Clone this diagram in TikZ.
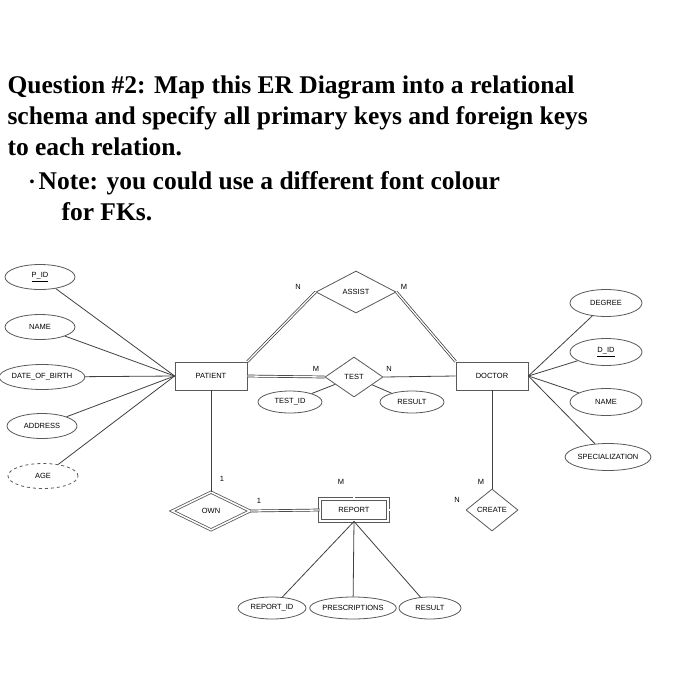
\documentclass[tikz,border=0pt]{standalone}
\usepackage{fontspec}
\setmainfont{Liberation Serif}
\setsansfont{Liberation Sans}
\usetikzlibrary{shapes.geometric}
\begin{document}
\begin{tikzpicture}[x=1pt,y=-1pt,
 attr/.style={ellipse,draw=gray!70!black,thick,minimum width=#1,minimum height=25pt,inner sep=0pt,font=\sffamily\fontsize{7.5}{8}\selectfont},
 attr/.default=70pt,
 ent/.style={rectangle,draw=gray!70!black,thick,minimum width=72pt,minimum height=28pt,font=\sffamily\fontsize{7.5}{8}\selectfont},
 rel/.style={diamond,draw=gray!70!black,thick,aspect=2,inner sep=0pt,font=\sffamily\fontsize{7.5}{8}\selectfont},
 ln/.style={draw=gray!50!black,thick},
 dbl/.style={draw=gray!40!black,line width=0.7pt,double=white,double distance=1.3pt},
 card/.style={font=\sffamily\fontsize{7.5}{8}\selectfont}]
\useasboundingbox (0,0) rectangle (678,673);
\fill[white] (0,0) rectangle (678,673);
\node[anchor=west,align=left,font=\bfseries\fontsize{25.5}{31}\selectfont] (title) at (4,116) {Question \#2: Map this ER Diagram into a relational\\schema and specify all primary keys and foreign keys\\to each relation.};
\node[anchor=west,align=left,font=\bfseries\fontsize{25.5}{31}\selectfont] (note) at (26,196) {{\fontsize{14}{14}\selectfont\raisebox{3pt}{\textbullet}}\,Note: you could use a different font colour\\\hspace*{32pt}for FKs.};
% entities
\node[ent] (pat) at (211,376) {PATIENT};
\node[ent] (doc) at (492,376) {DOCTOR};
\node[ent,double,double distance=1.5pt,minimum width=68pt,minimum height=22pt] (rep) at (354,510) {REPORT};
% relationships
\node[rel,minimum width=80pt,minimum height=42pt] (assist) at (356,292) {ASSIST};
\node[rel,minimum width=58pt,minimum height=40pt] (test) at (354,377) {TEST};
\node[rel,double,double distance=1.5pt,minimum width=78pt,minimum height=38pt] (own) at (211,511) {OWN};
\node[rel,minimum width=52pt,minimum height=42pt] (create) at (492,510) {CREATE};
% attributes
\node[attr] (pid) at (40,277) {\underline{P\_ID}};
\node[attr] (pname) at (40,327) {NAME};
\node[attr=80pt] (dob) at (42,377) {DATE\_OF\_BIRTH};
\node[attr] (addr) at (42,426) {ADDRESS};
\node[attr,dashed] (age) at (43,476) {AGE};
\node[attr=64pt,minimum height=22pt] (tid) at (290,402) {TEST\_ID};
\node[attr=64pt,minimum height=22pt] (tres) at (412,402) {RESULT};
\node[attr=72pt,minimum height=27pt] (deg) at (606,303) {DEGREE};
\node[attr=72pt,minimum height=27pt] (did) at (606,352) {\underline{D\_ID}};
\node[attr=72pt,minimum height=27pt] (dname) at (606,402) {NAME};
\node[attr=76pt,minimum height=27pt] (spec) at (608,457) {SPECIALIZATION};
\node[attr=68pt,minimum height=22pt] (rid) at (272,608) {REPORT\_ID};
\node[attr=72pt,minimum height=22pt] (pres) at (353,608) {PRESCRIPTIONS};
\node[attr=62pt,minimum height=22pt] (rres) at (430,608) {RESULT};
% attribute lines
\foreach \a in {pid,pname,dob,addr,age} \draw[ln] (\a) -- (pat.west);
\foreach \a in {deg,did,dname,spec} \draw[ln] (\a) -- (doc.east);
\draw[ln] (tid) -- (test); \draw[ln] (tres) -- (test);
\foreach \a in {rid,pres,rres} \draw[ln] (\a) -- (rep.south);
% relationship lines
\draw[dbl] (pat.north east) -- (assist.west);
\draw[dbl] (doc.north west) -- (assist.east);
\draw[dbl] (pat.east) -- (test.west);
\draw[ln] (test.east) -- (doc.west);
\draw[dbl] (test.south) -- (rep.north);
\draw[ln] (pat.south) -- (own.north);
\draw[dbl] (own.east) -- (rep.west);
\draw[dbl] (rep.east) -- (create.west);
\draw[ln] (create.north) -- (doc.south);
% cardinalities
\node[card] (c1) at (298,287) {N};
\node[card] (c2) at (404,287) {M};
\node[card] (c3) at (316,369) {M};
\node[card] (c4) at (389,369) {N};
\node[card] (c5) at (341,482) {M};
\node[card] (c6) at (222,479) {1};
\node[card] (c7) at (259,501) {1};
\node[card] (c8) at (457,500) {N};
\node[card] (c9) at (481,482) {M};
\end{tikzpicture}
\end{document}
